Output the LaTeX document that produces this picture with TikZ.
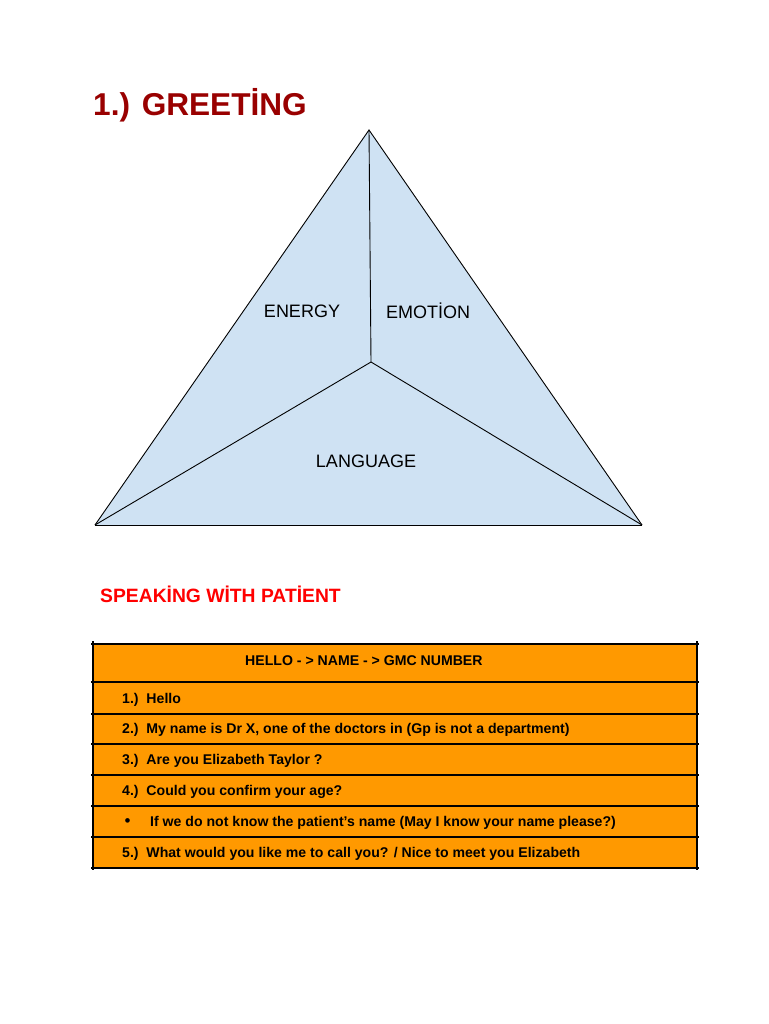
\documentclass[tikz,border=0pt]{standalone}
\usepackage{fontspec}
\setmainfont{Liberation Sans}
\definecolor{titlered}{HTML}{990000}
\definecolor{headred}{HTML}{FF0000}
\definecolor{tribg}{HTML}{CFE2F3}
\definecolor{tabor}{HTML}{FF9900}
\definecolor{baseline}{HTML}{5A6B7C}
\tikzset{
  triedge/.style={draw=black, line width=0.9pt},
  trilabel/.style={font=\fontsize{18}{21}\selectfont, inner sep=0pt},
  rowtext/.style={anchor=west, inner sep=0pt, font=\bfseries\fontsize{14.1}{17}\selectfont},
  tabline/.style={draw=black, line width=2pt},
}
\begin{document}
\begin{tikzpicture}[x=1pt,y=-1pt]
\useasboundingbox (0,0) rectangle (768,1024);
\fill[white] (0,0) rectangle (768,1024);
% title
\node[anchor=west, inner sep=0pt, text=titlered, font=\bfseries\fontsize{31.6}{36}\selectfont] (title) at (93,105) {1.) GREETİNG};
% triangle
\coordinate (A) at (369,130);
\coordinate (BL) at (95,525);
\coordinate (BR) at (642,525);
\coordinate (C) at (371,362);
\fill[tribg] (A) -- (BL) -- (BR) -- cycle;
\draw[baseline, line width=1pt] (BL) -- (BR);
\draw[triedge] (BL) -- (A) -- (BR);
\draw[triedge] (A) -- (C);
\draw[triedge] (C) -- (BL);
\draw[triedge] (C) -- (BR);
\node[trilabel] (energy) at (302,311) {ENERGY};
\node[trilabel] (emotion) at (428,311) {EMOTİON};
\node[trilabel] (language) at (366,461) {LANGUAGE};
% subtitle
\node[anchor=west, inner sep=0pt, text=headred, font=\bfseries\fontsize{19.3}{22}\selectfont] (speak) at (100,594) {SPEAKİNG WİTH PATİENT};
% table
\fill[tabor] (92,644) rectangle (698,868);
\foreach \yy in {644,682,714,744,775,806,837,868} {
  \draw[tabline] (91,\yy) -- (699,\yy);
}
\draw[tabline] (93,641) -- (93,870);
\draw[tabline] (697,641) -- (697,870);
\node[rowtext] (hdr) at (245,661) {HELLO - > NAME - > GMC NUMBER};
\node[rowtext] (r1) at (122,699.5) {1.)~~Hello};
\node[rowtext] (r2) at (122,730) {2.)~~My name is Dr X, one of the doctors in (Gp is not a department)};
\node[rowtext] (r3) at (122,761) {3.)~~Are you Elizabeth Taylor ?};
\node[rowtext] (r4) at (122,792) {4.)~~Could you confirm your age?};
\node[inner sep=0pt, font=\fontsize{17}{17}\selectfont] (bul) at (127.5,822.5) {\textbullet};
\node[rowtext] (rb) at (150,823) {If we do not know the patient’s name (May I know your name please?)};
\node[rowtext] (r5) at (122,854) {5.)~~What would you like me to call you? / Nice to meet you Elizabeth};
\end{tikzpicture}
\end{document}
